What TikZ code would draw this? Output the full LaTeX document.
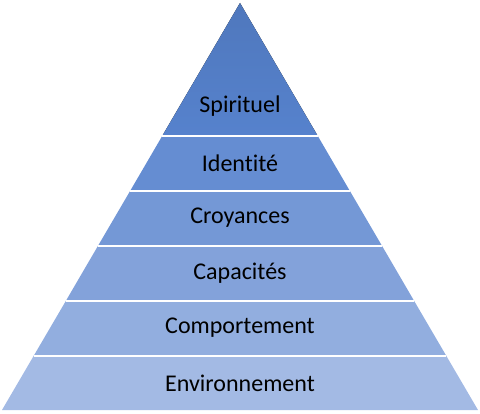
\documentclass[tikz,border=0pt]{standalone}
\usepackage{fontspec}
\setmainfont{Carlito}[Ligatures={NoCommon,NoDiscretionary,NoContextual}]
\begin{document}
\begin{tikzpicture}[x=1pt,y=1pt,
  lbl/.style={font=\fontsize{24}{28}\selectfont, text=black},
  sep/.style={draw=white, line width=1.6pt}]
\useasboundingbox (0,0) rectangle (480,413);
\definecolor{c1}{RGB}{86,130,205}
\definecolor{c2}{RGB}{101,141,210}
\definecolor{c3}{RGB}{116,152,214}
\definecolor{c4}{RGB}{131,162,218}
\definecolor{c5}{RGB}{146,174,223}
\definecolor{c6}{RGB}{163,186,228}
\coordinate (apex) at (240,410);
\coordinate (l1) at (162.2,277); \coordinate (r1) at (317.8,277);
\coordinate (l2) at (130.1,222); \coordinate (r2) at (349.9,222);
\coordinate (l3) at (97.9,167);  \coordinate (r3) at (382.1,167);
\coordinate (l4) at (65.8,112);  \coordinate (r4) at (414.2,112);
\coordinate (l5) at (33.6,57);   \coordinate (r5) at (446.4,57);
\coordinate (l6) at (2,3);       \coordinate (r6) at (478,3);
\fill[top color=c1!92!black, bottom color=c1] (apex) -- (r1) -- (l1) -- cycle;
\fill[c2] (l1) -- (r1) -- (r2) -- (l2) -- cycle;
\fill[c3] (l2) -- (r2) -- (r3) -- (l3) -- cycle;
\fill[c4] (l3) -- (r3) -- (r4) -- (l4) -- cycle;
\fill[c5] (l4) -- (r4) -- (r5) -- (l5) -- cycle;
\fill[c6] (l5) -- (r5) -- (r6) -- (l6) -- cycle;
\draw[sep] (l1) -- (r1);
\draw[sep] (l2) -- (r2);
\draw[sep] (l3) -- (r3);
\draw[sep] (l4) -- (r4);
\draw[sep] (l5) -- (r5);
\node[lbl] (n1) at (240,307) {Spirituel};
\node[lbl] (n2) at (240,250) {Identité};
\node[lbl] (n3) at (240,195) {Croyances};
\node[lbl] (n4) at (240,140) {Capacités};
\node[lbl] (n5) at (240,85) {Comportement};
\node[lbl] (n6) at (240,30) {Environnement};
\end{tikzpicture}
\end{document}
